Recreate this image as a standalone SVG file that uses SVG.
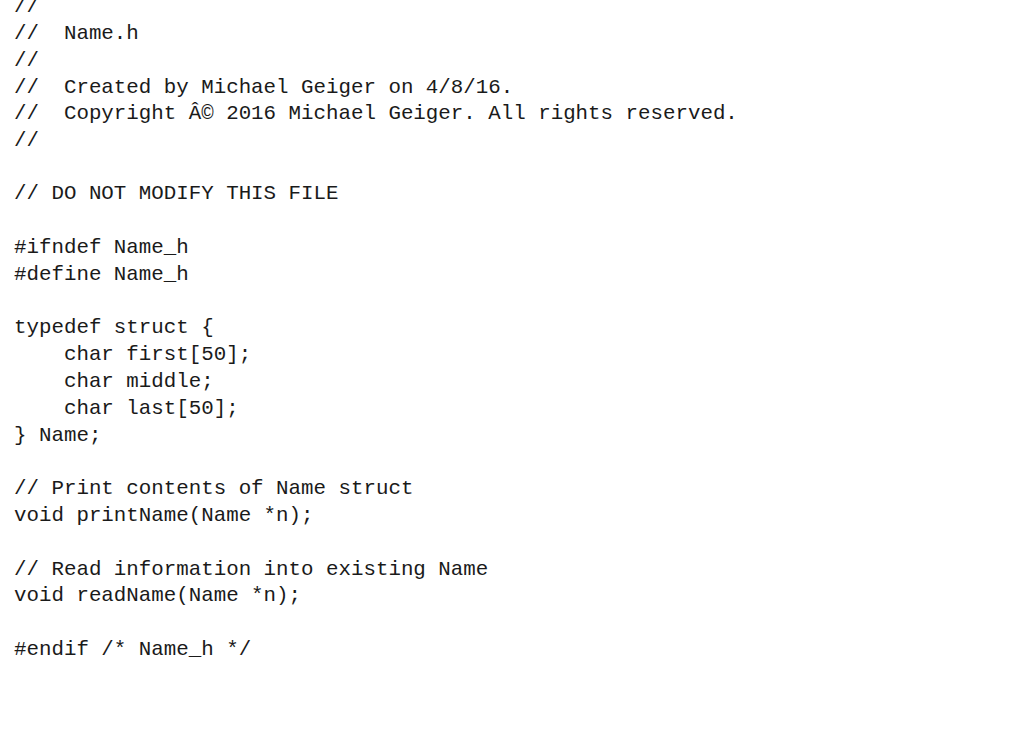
<svg xmlns="http://www.w3.org/2000/svg" width="1024" height="740" viewBox="0 0 1024 740">
<style>
text{font-family:"Liberation Mono","DejaVu Sans Mono",monospace;font-size:20.8px;fill:#1a1a1a;white-space:pre}
</style>
<rect width="1024" height="740" fill="#fff"/>
<g id="code" xml:space="preserve">
<text x="14" y="12">//</text>
<text x="14" y="39">//  Name.h</text>
<text x="14" y="66">//</text>
<text x="14" y="93">//  Created by Michael Geiger on 4/8/16.</text>
<text x="14" y="119">//  Copyright Â© 2016 Michael Geiger. All rights reserved.</text>
<text x="14" y="146">//</text>
<text x="14" y="199">// DO NOT MODIFY THIS FILE</text>
<text x="14" y="253">#ifndef Name_h</text>
<text x="14" y="280">#define Name_h</text>
<text x="14" y="333">typedef struct {</text>
<text x="14" y="360">    char first[50];</text>
<text x="14" y="387">    char middle;</text>
<text x="14" y="414">    char last[50];</text>
<text x="14" y="441">} Name;</text>
<text x="14" y="494">// Print contents of Name struct</text>
<text x="14" y="521">void printName(Name *n);</text>
<text x="14" y="575">// Read information into existing Name</text>
<text x="14" y="601">void readName(Name *n);</text>
<text x="14" y="655">#endif /* Name_h */</text>
</g>
</svg>
